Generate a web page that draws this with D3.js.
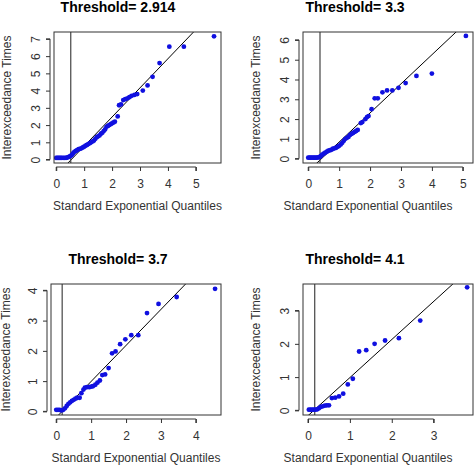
<!DOCTYPE html>
<html lang="en">
<head>
<meta charset="UTF-8">
<script src="https://cdn.jsdelivr.net/npm/d3@7"></script>
<style>
  body { margin: 0; background: #fff; }
  svg { font-family: "Liberation Sans", Arial, sans-serif; }
  .tick text { fill: #333; font-size: 12px; }
  .axis path, .axis line { stroke: #333; }
</style>
</head>
<body>
<svg id="chart" width="474" height="467"></svg>
<script>
// values
const titles = ["Threshold= 2.914", "Threshold= 3.3", "Threshold= 3.7", "Threshold= 4.1"];
const thresholdLine = [0.52, 0.38, 0.17, 0.16];
const slopes = [1.69, 1.47, 1.19, 1.145];
const intercepts = [-0.91, -0.63, -0.2, -0.16];

const p1x = [0,0.04,0.08,0.12,0.16,0.2,0.25,0.3,0.35,0.4,0.45,0.5,0.55,0.6,0.65,0.7,0.75,0.8,0.85,0.9,0.95,1.0,1.05,1.1,1.15,1.2,1.25,1.3,1.35,1.4,1.45,1.5,1.55,1.6,1.65,1.7,1.75,1.8,1.85,1.9,1.95,2.0,2.05,2.1,2.2,2.25,2.32,2.4,2.47,2.55,2.62,2.7,2.8,2.9,3.1,3.27,3.45,3.7,4.05,4.57,5.65];
const p1y = [0.1,0.1,0.1,0.1,0.1,0.1,0.1,0.1,0.1,0.12,0.15,0.2,0.25,0.35,0.45,0.5,0.55,0.6,0.62,0.65,0.7,0.75,0.8,0.85,0.9,0.95,1.0,1.05,1.1,1.2,1.3,1.35,1.4,1.5,1.55,1.65,1.75,1.9,1.95,2.0,2.05,2.1,2.15,2.2,2.5,3.15,3.2,3.45,3.5,3.55,3.62,3.7,3.75,3.8,4.0,4.3,4.8,5.6,6.55,6.55,7.15];
const p2x = [0,0.04,0.08,0.12,0.16,0.2,0.24,0.28,0.32,0.36,0.4,0.45,0.5,0.55,0.6,0.65,0.7,0.75,0.8,0.85,0.9,0.95,1.0,1.05,1.1,1.15,1.2,1.25,1.3,1.35,1.4,1.45,1.5,1.55,1.6,1.7,1.75,1.85,1.9,1.95,2.05,2.15,2.25,2.4,2.55,2.72,2.92,3.15,3.5,4.0,5.1];
const p2y = [0.05,0.05,0.05,0.05,0.05,0.05,0.05,0.05,0.06,0.08,0.12,0.2,0.25,0.3,0.35,0.4,0.42,0.45,0.5,0.52,0.55,0.6,0.65,0.72,0.8,0.9,1.0,1.05,1.1,1.2,1.25,1.3,1.35,1.4,1.45,1.8,1.85,2.0,2.1,2.15,2.5,3.05,3.05,3.35,3.45,3.45,3.58,3.82,4.18,4.3,6.2];
const p3x = [0,0.05,0.1,0.15,0.2,0.25,0.3,0.35,0.4,0.45,0.5,0.55,0.6,0.67,0.72,0.78,0.82,0.88,0.95,1.0,1.05,1.12,1.18,1.25,1.32,1.4,1.5,1.6,1.7,1.83,1.98,2.15,2.35,2.6,2.93,3.45,4.55];
const p3y = [0.05,0.05,0.05,0.03,0.05,0.1,0.18,0.25,0.3,0.35,0.38,0.42,0.45,0.45,0.6,0.72,0.78,0.8,0.8,0.82,0.83,0.88,0.95,1.02,1.2,1.22,1.43,1.92,1.98,2.22,2.38,2.52,2.52,3.25,3.55,3.78,4.05];
const p4x = [0.02,0.06,0.1,0.14,0.18,0.22,0.26,0.3,0.35,0.4,0.45,0.5,0.57,0.65,0.74,0.84,0.95,1.07,1.22,1.39,1.59,1.84,2.17,2.68,3.8];
const p4y = [0.02,0.02,0.02,0.02,0.02,0.03,0.06,0.1,0.12,0.14,0.15,0.15,0.37,0.38,0.42,0.5,0.78,0.95,1.77,1.81,2.0,2.1,2.17,2.7,3.7];

const xDomains = [[-0.08, 5.9], [-0.17, 5.33], [-0.15, 4.72], [-0.12, 3.94]];
const yDomains = [[-0.2, 7.4], [-0.22, 6.4], [-0.12, 4.21], [-0.14, 3.8]];
const xTicks = [[0,1,2,3,4,5], [0,1,2,3,4,5], [0,1,2,3,4], [0,1,2,3]];
const yTicks = [[0,1,2,3,4,5,6,7], [0,1,2,3,4,5,6], [0,1,2,3,4], [0,1,2,3]];

// panel boxes: [left, top, right, bottom] in page pixels
const boxes = [[54, 32, 221, 163], [303, 32, 473, 163], [51, 284, 221, 415], [303, 284, 473, 415]];

const pts = [[p1x, p1y], [p2x, p2y], [p3x, p3y], [p4x, p4y]];
const svg = d3.select("#chart");

boxes.forEach(function(b, i) {
    const x = d3.scaleLinear().domain(xDomains[i]).range([b[0], b[2]]);
    const y = d3.scaleLinear().domain(yDomains[i]).range([b[3], b[1]]);
    const g = svg.append("g");
    const cx = i % 2 === 0 ? 118 : 355;

    g.append("text").attr("x", cx).attr("y", b[1] - 20)
        .attr("text-anchor", "middle").attr("font-weight", "bold").attr("font-size", 14)
        .text(titles[i]);

    g.append("g").attr("class", "axis").attr("transform", `translate(0,${b[3] + 4})`)
        .call(d3.axisBottom(x).tickValues(xTicks[i]).tickFormat(d3.format("d")).tickSize(4).tickPadding(8))
        .call(a => a.select(".domain").attr("d", `M${x(xTicks[i][0])},4V0H${x(xTicks[i][xTicks[i].length - 1])}V4`));

    const ya = g.append("g").attr("class", "axis").attr("transform", `translate(${b[0] - 4},0)`)
        .call(d3.axisLeft(y).tickValues(yTicks[i]).tickFormat(d3.format("d")).tickSize(4).tickPadding(6))
        .call(a => a.select(".domain").attr("d", `M-4,${y(yTicks[i][0])}H0V${y(yTicks[i][yTicks[i].length - 1])}H-4`));
    ya.selectAll(".tick text").attr("transform", "rotate(-90)").attr("text-anchor", "middle")
        .attr("x", 0).attr("y", -10).attr("dy", "0");

    g.append("text").attr("x", (b[0] + b[2]) / 2 + (i % 2 ? -20 : 0)).attr("y", b[3] + 47)
        .attr("text-anchor", "middle").attr("font-size", 12).attr("fill", "#333")
        .text("Standard Exponential Quantiles");
    g.append("text").attr("transform", `translate(${Math.max(b[0] - 43, 10)},${(b[1] + b[3]) / 2}) rotate(-90)`)
        .attr("text-anchor", "middle").attr("font-size", 12).attr("fill", "#333")
        .text("Interexceedance Times");

    const clipId = "clip" + i;
    g.append("clipPath").attr("id", clipId).append("rect")
        .attr("x", b[0]).attr("y", b[1]).attr("width", b[2] - b[0]).attr("height", b[3] - b[1]);
    const pg = g.append("g").attr("clip-path", `url(#${clipId})`);

    const xd = xDomains[i];
    pg.append("line")
        .attr("x1", x(xd[0])).attr("y1", y(slopes[i] * xd[0] + intercepts[i]))
        .attr("x2", x(xd[1])).attr("y2", y(slopes[i] * xd[1] + intercepts[i]))
        .attr("stroke", "#000").attr("stroke-width", 1);
    pg.append("line")
        .attr("x1", x(thresholdLine[i])).attr("x2", x(thresholdLine[i]))
        .attr("y1", b[1]).attr("y2", b[3]).attr("stroke", "#444").attr("stroke-width", 1.2);
    pg.selectAll("circle").data(d3.range(pts[i][0].length)).join("circle")
        .attr("cx", k => x(pts[i][0][k])).attr("cy", k => y(pts[i][1][k]))
        .attr("r", 2.4).attr("fill", "#1010e0");

    g.append("rect").attr("x", b[0]).attr("y", b[1])
        .attr("width", b[2] - b[0]).attr("height", b[3] - b[1])
        .attr("fill", "none").attr("stroke", "#333").attr("stroke-width", 1);
});
</script>
</body>
</html>
